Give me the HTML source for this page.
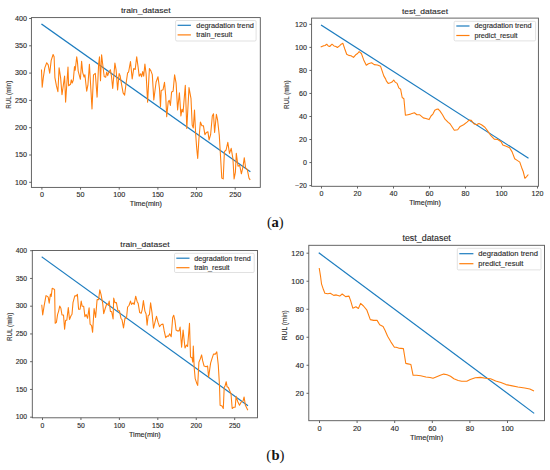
<!DOCTYPE html>
<html><head><meta charset="utf-8"><style>
html,body{margin:0;padding:0;background:#fff;}
body{width:550px;height:470px;overflow:hidden;}
svg{display:block;}
</style></head><body>
<svg width="550" height="470" viewBox="0 0 550 470">
<rect width="550" height="470" fill="#fff"/>
<clipPath id="c0"><rect x="31.4" y="17.6" width="228.9" height="169.8"/></clipPath>
<g clip-path="url(#c0)" fill="none" stroke-linejoin="round">
<line x1="41.9" y1="24.3" x2="249.9" y2="171.3" stroke="#1c7cbf" stroke-width="1.2" stroke-linecap="square"/>
<polyline points="41.5,70.1 42.2,87.2 43.3,77.6 44.8,67.9 46.7,62.7 48.2,64.9 49.7,73.1 51.2,60.4 53.1,54.5 54.1,56.7 54.9,77.6 56.4,85.7 57.9,91.7 59.1,67.9 60.6,77.6 62,94.7 64.6,76.1 65.6,102.1 66.8,84.3 68,67.1 68.6,85.7 70.5,84.3 71.3,79.8 72.2,83 73.3,80 74.5,66.6 75.2,70.3 76.7,56.9 77.4,61.4 78.2,71.1 80.4,79.3 81.6,61.4 82.7,72.6 84.1,77 84.9,74.8 86.7,91.2 87.9,85.2 89.4,64.4 90.9,89.7 92,109 93.5,74.8 95.3,73.3 97.1,97.1 98.6,64.4 99.5,56.9 100.5,80.7 101.6,54.7 103,66.8 104.2,76.5 105.7,77.2 106.7,72 107.7,75.7 108.9,72 110.4,69.8 111.6,77.2 112.7,88.4 114.1,72.8 114.9,63.1 116.1,69.8 117.6,89.9 119.1,73.5 120.1,75.7 121.6,84.7 123.1,92.9 124.6,95.1 126.1,83.2 127.6,72.8 128.6,72 129.8,65.3 130.5,61.6 132.2,79 133.7,68.6 135.2,69.4 136.7,56.7 138.2,67.9 139.2,76.1 140.7,73.8 141.6,76.8 142.7,71.6 143.7,76.1 144.9,64.1 146.1,73.8 147.6,102.1 149.4,68.6 150.9,70.9 152.3,74.6 153.8,99.9 156.1,82 158,76.8 159.5,88.7 160.5,106.6 161.2,90.5 163,89.8 164.5,82.3 165.7,95.7 166.7,116.6 168.2,101.7 169.2,100.2 170.4,105.4 171.6,92 173.1,91.3 174.6,74.9 176.1,83.1 177.6,109.9 179.4,92.8 180.9,115.9 182,109.2 183.1,112.1 185.3,85.3 186.8,128.5 189,87.6 191,98.7 192.2,125 193.3,128 194.5,110.1 195.7,134.7 196.7,148.1 197.7,158.5 198.9,139.2 200.4,122 201.9,125.7 203.4,125.7 204.9,134.7 206.4,132.4 207.9,131.7 209.1,139.9 210.6,134.7 212.3,116.1 213.5,113.8 214.6,132.4 216.4,114.3 217.6,120.2 219.3,135.5 220.4,154.3 221.8,178.1 223.2,178.9 224.4,151.7 226.1,150 227.8,142.3 229.5,153.4 231.2,148.3 232.9,158.5 234.1,178.9 235.4,172.1 236.3,153.4 238,166.2 239.7,165.3 241.4,173.8 243.1,166.2 244.3,157.7 245.6,167.9 247.3,169.6 249,178.1 249.9,179.4" stroke="#ff7f0e" stroke-width="1.08" stroke-linecap="square"/>
</g>
<rect x="31.4" y="17.6" width="228.9" height="169.8" fill="none" stroke="#555" stroke-width="0.9"/>
<path d="M41.9 187.4v2.24M80.56 187.4v2.24M119.22 187.4v2.24M157.88 187.4v2.24M196.54 187.4v2.24M235.2 187.4v2.24M31.4 182.3h-2.24M31.4 155h-2.24M31.4 127.7h-2.24M31.4 100.4h-2.24M31.4 73.1h-2.24M31.4 45.8h-2.24M31.4 18.5h-2.24" stroke="#555" stroke-width="0.9" fill="none"/>
<g style="font-family:&quot;Liberation Sans&quot;,sans-serif" fill="#2a2a2a" stroke="#2a2a2a" stroke-width="0.12">
<text x="39.91" y="196.9" font-size="6.62" textLength="3.98" lengthAdjust="spacingAndGlyphs">0</text>
<text x="76.58" y="196.9" font-size="6.62" textLength="7.95" lengthAdjust="spacingAndGlyphs">50</text>
<text x="113.26" y="196.9" font-size="6.62" textLength="11.93" lengthAdjust="spacingAndGlyphs">100</text>
<text x="151.92" y="196.9" font-size="6.62" textLength="11.93" lengthAdjust="spacingAndGlyphs">150</text>
<text x="190.58" y="196.9" font-size="6.62" textLength="11.93" lengthAdjust="spacingAndGlyphs">200</text>
<text x="229.24" y="196.9" font-size="6.62" textLength="11.93" lengthAdjust="spacingAndGlyphs">250</text>
<text x="15.07" y="184.58" font-size="6.62" textLength="11.93" lengthAdjust="spacingAndGlyphs">100</text>
<text x="15.07" y="157.28" font-size="6.62" textLength="11.93" lengthAdjust="spacingAndGlyphs">150</text>
<text x="15.07" y="129.98" font-size="6.62" textLength="11.93" lengthAdjust="spacingAndGlyphs">200</text>
<text x="15.07" y="102.68" font-size="6.62" textLength="11.93" lengthAdjust="spacingAndGlyphs">250</text>
<text x="15.07" y="75.38" font-size="6.62" textLength="11.93" lengthAdjust="spacingAndGlyphs">300</text>
<text x="15.07" y="48.08" font-size="6.62" textLength="11.93" lengthAdjust="spacingAndGlyphs">350</text>
<text x="15.07" y="20.78" font-size="6.62" textLength="11.93" lengthAdjust="spacingAndGlyphs">400</text>
<text x="120.9" y="13.3" font-size="8" textLength="49.89" lengthAdjust="spacingAndGlyphs">train_dataset</text>
<text x="129.87" y="205.6" font-size="6.62" textLength="31.96" lengthAdjust="spacingAndGlyphs">Time(min)</text>
<g transform="translate(11 94.8) rotate(-90)"><text x="-14" y="0" font-size="6.62" textLength="28" lengthAdjust="spacingAndGlyphs">RUL (min)</text></g>
<rect x="175.6" y="20.5" width="80.5" height="20.5" rx="1.3" fill="#fff" fill-opacity="0.8" stroke="#cccccc" stroke-width="0.6"/>
<line x1="177.6" y1="25.3" x2="190.9" y2="25.3" stroke="#1c7cbf" stroke-width="1.2"/>
<text x="196.3" y="27.71" font-size="6.73" textLength="57.5" lengthAdjust="spacingAndGlyphs">degradation trend</text>
<line x1="177.6" y1="34.9" x2="190.9" y2="34.9" stroke="#ff7f0e" stroke-width="1.2"/>
<text x="196.3" y="37.31" font-size="6.73" textLength="35.92" lengthAdjust="spacingAndGlyphs">train_result</text>
</g>
<clipPath id="c1"><rect x="311.6" y="18.1" width="226.8" height="168.2"/></clipPath>
<g clip-path="url(#c1)" fill="none" stroke-linejoin="round">
<line x1="321.5" y1="25.3" x2="528" y2="157.9" stroke="#1c7cbf" stroke-width="1.2" stroke-linecap="square"/>
<polyline points="321.2,46.7 323.1,45.9 325,45.5 326.7,44.2 328.2,45.9 329.7,46.5 332,44.2 334,45.9 335.9,46.5 337.4,47.5 339.5,45.9 341.2,44.2 342.9,43.3 344.8,49 346.7,54.2 348.7,55.4 351,55.7 353.5,57.4 355.7,54.8 357.6,53.5 359.1,51.6 361.4,53.5 363.7,59.9 366.3,65.3 368.4,63.7 371.6,62.8 374.2,64.6 377.4,65 380.6,66.3 383.8,75.9 385.7,79.1 386.3,80.9 388.2,83.4 390.4,82.8 392,82.1 393.7,80 395.2,82.1 397.1,83.4 398.8,87.9 400.6,89.2 402.2,97.5 403.9,98.7 405.4,115.3 408,114.7 410.5,114.1 414.4,112.8 416.9,114.7 419.5,114.7 423.3,117.9 425.9,118.5 429.1,119.6 431,116 432.9,114.1 434.8,110.2 436.7,109.3 438,109 439.9,110.9 442.5,114.7 445,119.2 448.2,122.4 450,123.8 454.3,130.3 457.7,129.8 460.2,126.4 463.6,124.7 467,122.1 469.1,120.1 471.3,120.4 473.8,123.8 476.4,124.7 478.9,123.5 481.5,124.7 484.9,127.2 487.4,130.6 490.9,135.7 494.3,139.1 497.7,139.5 501.1,141.7 502.8,145.1 506.2,146.3 509.6,147.7 512.1,151.9 514.7,158.7 517.2,160.4 519.8,162.1 521.5,167.2 523.2,171.5 524.9,178.3 526.6,176.6 528,174.9" stroke="#ff7f0e" stroke-width="1.08" stroke-linecap="square"/>
</g>
<rect x="311.6" y="18.1" width="226.8" height="168.2" fill="none" stroke="#555" stroke-width="0.9"/>
<path d="M321.5 186.3v2.22M357.5 186.3v2.22M393.5 186.3v2.22M429.5 186.3v2.22M465.5 186.3v2.22M501.5 186.3v2.22M537.5 186.3v2.22M311.6 185.59h-2.22M311.6 162.55h-2.22M311.6 139.52h-2.22M311.6 116.49h-2.22M311.6 93.45h-2.22M311.6 70.42h-2.22M311.6 47.38h-2.22M311.6 24.35h-2.22" stroke="#555" stroke-width="0.9" fill="none"/>
<g style="font-family:&quot;Liberation Sans&quot;,sans-serif" fill="#2a2a2a" stroke="#2a2a2a" stroke-width="0.12">
<text x="319.53" y="196" font-size="6.57" textLength="3.94" lengthAdjust="spacingAndGlyphs">0</text>
<text x="353.56" y="196" font-size="6.57" textLength="7.89" lengthAdjust="spacingAndGlyphs">20</text>
<text x="389.56" y="196" font-size="6.57" textLength="7.89" lengthAdjust="spacingAndGlyphs">40</text>
<text x="425.56" y="196" font-size="6.57" textLength="7.89" lengthAdjust="spacingAndGlyphs">60</text>
<text x="461.56" y="196" font-size="6.57" textLength="7.89" lengthAdjust="spacingAndGlyphs">80</text>
<text x="495.58" y="196" font-size="6.57" textLength="11.83" lengthAdjust="spacingAndGlyphs">100</text>
<text x="531.58" y="196" font-size="6.57" textLength="11.83" lengthAdjust="spacingAndGlyphs">120</text>
<text x="295.22" y="187.85" font-size="6.57" textLength="11.68" lengthAdjust="spacingAndGlyphs">−20</text>
<text x="302.96" y="164.81" font-size="6.57" textLength="3.94" lengthAdjust="spacingAndGlyphs">0</text>
<text x="299.01" y="141.78" font-size="6.57" textLength="7.89" lengthAdjust="spacingAndGlyphs">20</text>
<text x="299.01" y="118.75" font-size="6.57" textLength="7.89" lengthAdjust="spacingAndGlyphs">40</text>
<text x="299.01" y="95.71" font-size="6.57" textLength="7.89" lengthAdjust="spacingAndGlyphs">60</text>
<text x="299.01" y="72.68" font-size="6.57" textLength="7.89" lengthAdjust="spacingAndGlyphs">80</text>
<text x="295.07" y="49.64" font-size="6.57" textLength="11.83" lengthAdjust="spacingAndGlyphs">100</text>
<text x="295.07" y="26.61" font-size="6.57" textLength="11.83" lengthAdjust="spacingAndGlyphs">120</text>
<text x="401.9" y="13.7" font-size="7.9" textLength="46.2" lengthAdjust="spacingAndGlyphs">test_dataset</text>
<text x="409.15" y="205" font-size="6.57" textLength="31.7" lengthAdjust="spacingAndGlyphs">Time(min)</text>
<g transform="translate(289.2 94.7) rotate(-90)"><text x="-14.2" y="0" font-size="6.57" textLength="28.4" lengthAdjust="spacingAndGlyphs">RUL (min)</text></g>
<rect x="454.1" y="21.3" width="81.5" height="19.6" rx="1.3" fill="#fff" fill-opacity="0.8" stroke="#cccccc" stroke-width="0.6"/>
<line x1="456.3" y1="26" x2="469.5" y2="26" stroke="#1c7cbf" stroke-width="1.2"/>
<text x="474.5" y="28.4" font-size="6.68" textLength="57.04" lengthAdjust="spacingAndGlyphs">degradation trend</text>
<line x1="456.3" y1="35.5" x2="469.5" y2="35.5" stroke="#ff7f0e" stroke-width="1.2"/>
<text x="474.5" y="37.9" font-size="6.68" textLength="42.98" lengthAdjust="spacingAndGlyphs">predict_result</text>
</g>
<clipPath id="c2"><rect x="32.3" y="250.5" width="225.2" height="167.3"/></clipPath>
<g clip-path="url(#c2)" fill="none" stroke-linejoin="round">
<line x1="42.2" y1="257.2" x2="247.5" y2="405.3" stroke="#1c7cbf" stroke-width="1.2" stroke-linecap="square"/>
<polyline points="41.8,305.3 42.7,315 44.2,305.3 46,295.6 47.4,296.4 48.2,297.1 49.2,303.1 50.4,294.1 51.2,296.4 52.2,288.2 53.7,288.9 54.6,289.7 55.2,323.2 56.4,322.4 57.6,314.3 58.6,311.3 59.7,306.1 60.9,308.3 62,315 63.5,315 64.6,329.1 65.6,320.2 66.8,320.2 68.3,307.6 69.5,319.5 71,315.7 72,314.3 73,302.6 74.8,295.9 76.3,295.9 77.4,294.4 78.6,309.3 80.1,309.3 81.2,301.1 82.2,306.3 83.7,306.3 84.9,316.7 86.1,314.5 87.6,318.2 89.1,307.8 90.1,324.2 91.6,325.6 92.6,332.3 94.1,308.5 95.6,317.4 97.1,299.6 98.6,299.6 99.8,289.9 101,294.4 102.7,303.3 103.7,313.7 105.2,308.5 106.7,304 108.2,304.8 109.2,301.1 110.4,311.5 111.6,311.5 113.1,318.9 113.7,298.1 114.9,302.6 116.4,302.6 117.9,310.7 119.4,310.7 120.9,318.2 122,319.7 123.5,327.9 125,318.2 126.5,318.2 127.6,307 129,305.5 130.5,301.1 131.5,304.4 133,302.9 134.2,304.4 135.7,296.2 137.1,301.4 138.2,303.6 139.7,312.6 141.2,313.3 142.2,309.6 143.4,300.6 144.9,311.1 146.1,314 147.1,325.2 148.2,315.5 149.4,314.8 150.6,302.9 152,312.6 153.5,328.2 155,322.2 156.5,316.3 158,322.2 159.5,326.7 161.3,324.5 163,324.1 164.2,330.9 165.7,337.6 167.1,336.1 168.6,336.1 169.7,333.8 171.2,336.8 172.7,317.4 173.7,315.2 174.9,320.4 176.1,330.1 177.6,330.9 179.1,330.9 180.1,327.1 181.6,347.2 183.1,330.1 185,348 186.5,345 187.6,346.5 189.5,323.4 190.5,356.9 192,357.7 192.8,362.1 193.3,346 194.2,367.6 195.2,378.7 196.7,383.2 197.7,385.4 198.9,362.3 200.4,358.6 201.6,354.9 202.7,360.9 204.1,366.1 206.1,366.8 207.6,366.1 208.6,377.2 210.6,363.1 212,358.6 213.5,354.1 215.3,354.1 216.8,351.9 218.3,365.3 219.5,385.5 220.1,405.3 222,406 223.3,408.5 224.2,387.5 225.2,385.5 226.2,381.7 227.1,386.8 228.4,387.5 229.7,390.7 231,393.8 232.2,408.5 233.5,407.3 235.2,407.3 236.1,396.4 237.7,401.5 239.5,405.3 241.2,402.1 243.1,400.9 244.1,397 245.4,405.3 247.6,409.8" stroke="#ff7f0e" stroke-width="1.08" stroke-linecap="square"/>
</g>
<rect x="32.3" y="250.5" width="225.2" height="167.3" fill="none" stroke="#555" stroke-width="0.9"/>
<path d="M42.5 417.8v2.21M80.94 417.8v2.21M119.38 417.8v2.21M157.82 417.8v2.21M196.26 417.8v2.21M234.7 417.8v2.21M32.3 417.2h-2.21M32.3 389.45h-2.21M32.3 361.7h-2.21M32.3 333.95h-2.21M32.3 306.2h-2.21M32.3 278.45h-2.21M32.3 250.7h-2.21" stroke="#555" stroke-width="0.9" fill="none"/>
<g style="font-family:&quot;Liberation Sans&quot;,sans-serif" fill="#2a2a2a" stroke="#2a2a2a" stroke-width="0.12">
<text x="40.61" y="427.9" font-size="6.31" textLength="3.79" lengthAdjust="spacingAndGlyphs">0</text>
<text x="77.15" y="427.9" font-size="6.31" textLength="7.57" lengthAdjust="spacingAndGlyphs">50</text>
<text x="113.7" y="427.9" font-size="6.31" textLength="11.36" lengthAdjust="spacingAndGlyphs">100</text>
<text x="152.14" y="427.9" font-size="6.31" textLength="11.36" lengthAdjust="spacingAndGlyphs">150</text>
<text x="190.58" y="427.9" font-size="6.31" textLength="11.36" lengthAdjust="spacingAndGlyphs">200</text>
<text x="229.02" y="427.9" font-size="6.31" textLength="11.36" lengthAdjust="spacingAndGlyphs">250</text>
<text x="15.74" y="419.46" font-size="6.31" textLength="11.36" lengthAdjust="spacingAndGlyphs">100</text>
<text x="15.74" y="391.71" font-size="6.31" textLength="11.36" lengthAdjust="spacingAndGlyphs">150</text>
<text x="15.74" y="363.96" font-size="6.31" textLength="11.36" lengthAdjust="spacingAndGlyphs">200</text>
<text x="15.74" y="336.21" font-size="6.31" textLength="11.36" lengthAdjust="spacingAndGlyphs">250</text>
<text x="15.74" y="308.46" font-size="6.31" textLength="11.36" lengthAdjust="spacingAndGlyphs">300</text>
<text x="15.74" y="280.71" font-size="6.31" textLength="11.36" lengthAdjust="spacingAndGlyphs">350</text>
<text x="15.74" y="252.96" font-size="6.31" textLength="11.36" lengthAdjust="spacingAndGlyphs">400</text>
<text x="120.28" y="246.5" font-size="7.9" textLength="49.23" lengthAdjust="spacingAndGlyphs">train_dataset</text>
<text x="129.05" y="436.5" font-size="6.57" textLength="31.7" lengthAdjust="spacingAndGlyphs">Time(min)</text>
<g transform="translate(12.1 326.8) rotate(-90)"><text x="-14.2" y="0" font-size="6.57" textLength="28.4" lengthAdjust="spacingAndGlyphs">RUL (min)</text></g>
<rect x="174.5" y="253.3" width="79.7" height="19.2" rx="1.3" fill="#fff" fill-opacity="0.8" stroke="#cccccc" stroke-width="0.6"/>
<line x1="176.3" y1="258.2" x2="189.5" y2="258.2" stroke="#1c7cbf" stroke-width="1.2"/>
<text x="194.2" y="260.58" font-size="6.62" textLength="56.59" lengthAdjust="spacingAndGlyphs">degradation trend</text>
<line x1="176.3" y1="267.7" x2="189.5" y2="267.7" stroke="#ff7f0e" stroke-width="1.2"/>
<text x="194.2" y="270.08" font-size="6.62" textLength="35.35" lengthAdjust="spacingAndGlyphs">train_result</text>
</g>
<clipPath id="c3"><rect x="308.8" y="245.3" width="235.7" height="175.4"/></clipPath>
<g clip-path="url(#c3)" fill="none" stroke-linejoin="round">
<line x1="319.2" y1="253.1" x2="533.7" y2="413" stroke="#1c7cbf" stroke-width="1.2" stroke-linecap="square"/>
<polyline points="319.3,268.5 320.4,275.3 321.5,283.8 323.5,289.8 324.9,293.2 327.8,293.7 330.3,293.2 333.7,295.4 336.3,294.9 339.7,296.1 342.2,294 345.6,296.6 349,296.1 350.7,300.9 352.8,308.2 355.9,306.8 358.4,308.5 360.6,303.4 363.5,306 366.9,310.2 370.3,319.6 373.7,320.4 377.1,320.4 379.7,324.7 383.1,326.4 385,330.2 387.6,336.2 391,342.1 394.4,347.2 396.1,347.2 398.6,348.1 403.4,348.6 405.8,363.4 408,363.9 410.9,364.6 413.1,375.3 416.5,375.3 420.7,375.8 425.9,377 430.1,377.5 433,378.2 436.1,377 440.3,375.3 443.7,374.1 447.1,374.8 450.5,376.2 453.9,378.7 458.2,380.4 461.6,381.3 466.8,381.2 470.2,379.5 475.3,377.8 480.4,377.4 485.5,378.3 490.6,378.8 495.7,380.9 500.9,382.6 506,384.6 511.1,385.6 517.9,387 524.7,388 529.8,389 533.5,390.7" stroke="#ff7f0e" stroke-width="1.08" stroke-linecap="square"/>
</g>
<rect x="308.8" y="245.3" width="235.7" height="175.4" fill="none" stroke="#555" stroke-width="0.9"/>
<path d="M319.5 420.7v2.31M357.1 420.7v2.31M394.7 420.7v2.31M432.3 420.7v2.31M469.9 420.7v2.31M507.5 420.7v2.31M308.8 393.3h-2.31M308.8 365.28h-2.31M308.8 337.26h-2.31M308.8 309.24h-2.31M308.8 281.22h-2.31M308.8 253.2h-2.31" stroke="#555" stroke-width="0.9" fill="none"/>
<g style="font-family:&quot;Liberation Sans&quot;,sans-serif" fill="#2a2a2a" stroke="#2a2a2a" stroke-width="0.12">
<text x="317.43" y="430.9" font-size="6.89" textLength="4.14" lengthAdjust="spacingAndGlyphs">0</text>
<text x="352.96" y="430.9" font-size="6.89" textLength="8.27" lengthAdjust="spacingAndGlyphs">20</text>
<text x="390.56" y="430.9" font-size="6.89" textLength="8.27" lengthAdjust="spacingAndGlyphs">40</text>
<text x="428.16" y="430.9" font-size="6.89" textLength="8.27" lengthAdjust="spacingAndGlyphs">60</text>
<text x="465.76" y="430.9" font-size="6.89" textLength="8.27" lengthAdjust="spacingAndGlyphs">80</text>
<text x="501.3" y="430.9" font-size="6.89" textLength="12.41" lengthAdjust="spacingAndGlyphs">100</text>
<text x="295.53" y="395.67" font-size="6.89" textLength="8.27" lengthAdjust="spacingAndGlyphs">20</text>
<text x="295.53" y="367.65" font-size="6.89" textLength="8.27" lengthAdjust="spacingAndGlyphs">40</text>
<text x="295.53" y="339.63" font-size="6.89" textLength="8.27" lengthAdjust="spacingAndGlyphs">60</text>
<text x="295.53" y="311.61" font-size="6.89" textLength="8.27" lengthAdjust="spacingAndGlyphs">80</text>
<text x="291.39" y="283.59" font-size="6.89" textLength="12.41" lengthAdjust="spacingAndGlyphs">100</text>
<text x="291.39" y="255.57" font-size="6.89" textLength="12.41" lengthAdjust="spacingAndGlyphs">120</text>
<text x="402.47" y="241.3" font-size="8.27" textLength="48.37" lengthAdjust="spacingAndGlyphs">test_dataset</text>
<text x="410.03" y="439.8" font-size="6.89" textLength="33.24" lengthAdjust="spacingAndGlyphs">Time(min)</text>
<g transform="translate(287.3 325.2) rotate(-90)"><text x="-15" y="0" font-size="6.89" textLength="30" lengthAdjust="spacingAndGlyphs">RUL (min)</text></g>
<rect x="457.3" y="248.3" width="83.7" height="21.6" rx="1.3" fill="#fff" fill-opacity="0.8" stroke="#cccccc" stroke-width="0.6"/>
<line x1="459.3" y1="253.7" x2="473.4" y2="253.7" stroke="#1c7cbf" stroke-width="1.2"/>
<text x="478.3" y="256.21" font-size="7" textLength="59.76" lengthAdjust="spacingAndGlyphs">degradation trend</text>
<line x1="459.3" y1="263.7" x2="473.4" y2="263.7" stroke="#ff7f0e" stroke-width="1.2"/>
<text x="478.3" y="266.21" font-size="7" textLength="45.03" lengthAdjust="spacingAndGlyphs">predict_result</text>
</g>
<text x="266.97" y="226.6" font-size="14.6" style="font-family:&quot;Liberation Serif&quot;,serif" fill="#141414">(</text>
<text x="271.53" y="226.6" font-size="14.6" font-weight="bold" style="font-family:&quot;Liberation Serif&quot;,serif" fill="#141414">a</text>
<text x="278.63" y="226.6" font-size="14.6" style="font-family:&quot;Liberation Serif&quot;,serif" fill="#141414">)</text>
<text x="266.17" y="459.7" font-size="14.8" style="font-family:&quot;Liberation Serif&quot;,serif" fill="#141414">(</text>
<text x="271.52" y="459.7" font-size="14.6" font-weight="bold" style="font-family:&quot;Liberation Serif&quot;,serif" fill="#141414">b</text>
<text x="279.43" y="459.7" font-size="14.8" style="font-family:&quot;Liberation Serif&quot;,serif" fill="#141414">)</text>
</svg>
</body></html>
